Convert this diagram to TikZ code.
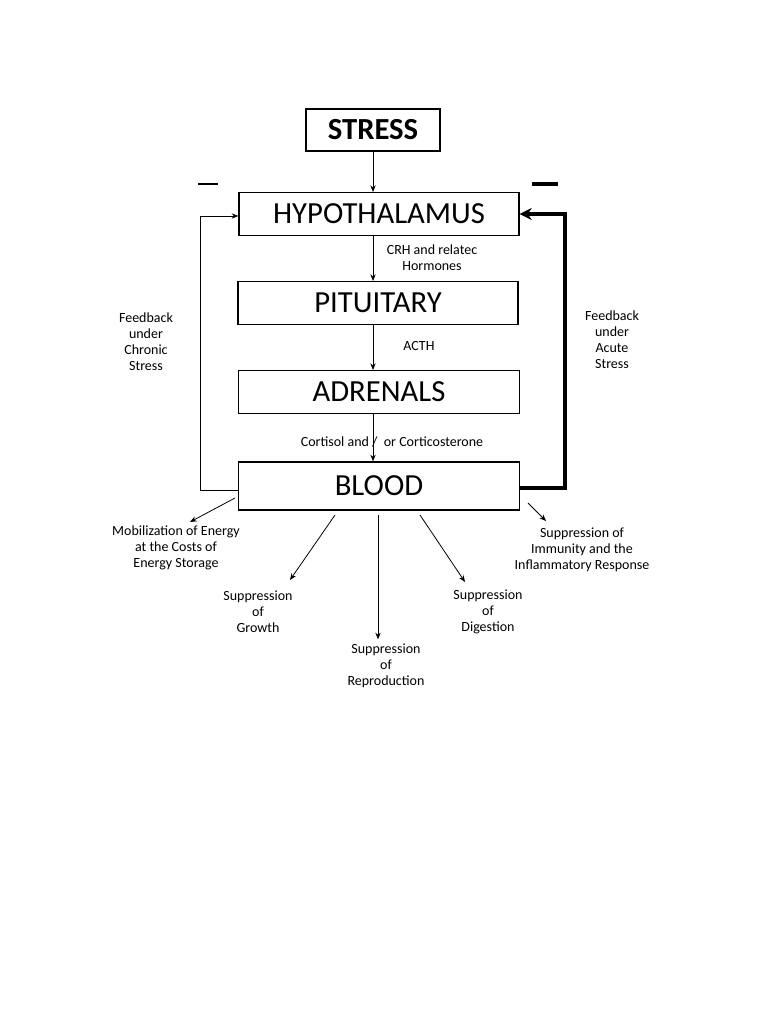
\documentclass[tikz,border=0pt]{standalone}
\usepackage{fontspec}
\setmainfont{Carlito}
\usetikzlibrary{arrows.meta}
\begin{document}
\begin{tikzpicture}[x=0.75pt,y=-0.75pt,
 box/.style={draw,line width=1pt,minimum height=32pt,font=\fontsize{23}{26}\selectfont,inner sep=0pt},
 lbl/.style={font=\fontsize{10.5}{12}\selectfont,align=center},
 arr/.style={-{Stealth[length=5pt,width=4pt]},line width=0.6pt}]
\useasboundingbox (0,0) rectangle (768,1024);
\node[box,minimum width=100pt,line width=1.5pt,font=\fontsize{23}{26}\selectfont\bfseries] (s) at (373,130) {STRESS};
\node[box,minimum width=210pt] (h) at (379,214) {HYPOTHALAMUS};
\node[box,minimum width=210pt] (p) at (378,303) {PITUITARY};
\node[box,minimum width=211pt] (a) at (379,392) {ADRENALS};
\node[box,minimum width=211pt,minimum height=36pt] (b) at (379,486) {BLOOD};
\draw[arr] (s) -- (h.north -| s);
\draw[arr] (h.south -| s) -- (p.north -| s);
\draw[arr] (p.south -| s) -- (a.north -| s);
\draw[arr] (a.south -| s) -- (b.north -| s);
\node[lbl] (l1) at (432,258) {CRH and relatec\\Hormones};
\node[lbl] (l2) at (419,346) {ACTH};
\node[lbl] (l3) at (392,442) {Cortisol and /\ \ or Corticosterone};
\coordinate (c1) at (200,490); \coordinate (c2) at (200,216);
\draw[arr] (b.west |- c1) -- (c1) -- (c2) -- (h.west |- c2);
\coordinate (d1) at (565,488); \coordinate (d2) at (565,214);
\draw[-{Stealth[length=9pt,width=9pt]},line width=3pt] (b.east |- d1) -- (d1) -- (d2) -- (h.east |- d2);
\node[lbl] (fc) at (146,342) {Feedback\\under\\Chronic\\Stress};
\node[lbl] (fa) at (612,340) {Feedback\\under\\Acute\\Stress};
\coordinate (m1a) at (198,184); \coordinate (m1b) at (218,184);
\draw[line width=1pt] (m1a) -- (m1b);
\coordinate (m2a) at (532,184); \coordinate (m2b) at (558,184);
\draw[line width=3pt] (m2a) -- (m2b);
\node[lbl] (o1) at (176,548) {Mobilization of Energy\\at the Costs of\\Energy Storage};
\node[lbl] (o2) at (258,612) {Suppression\\of\\Growth};
\node[lbl] (o3) at (386,666) {Suppression\\of\\Reproduction};
\node[lbl] (o4) at (488,612) {Suppression\\of\\Digestion};
\node[lbl] (o5) at (582,550) {Suppression of\\Immunity and the\\Inflammatory Response};
\coordinate (e1) at (235,498); \coordinate (e2) at (335,515); \coordinate (e3) at (378,515);
\coordinate (e4) at (420,515); \coordinate (e5) at (528,503);
\draw[arr] (e1) -- (190,522);
\draw[arr] (e2) -- (290,580);
\draw[arr] (e3) -- (o3.north -| e3);
\draw[arr] (e4) -- (465,582);
\draw[arr] (e5) -- (546,521);
\end{tikzpicture}
\end{document}
